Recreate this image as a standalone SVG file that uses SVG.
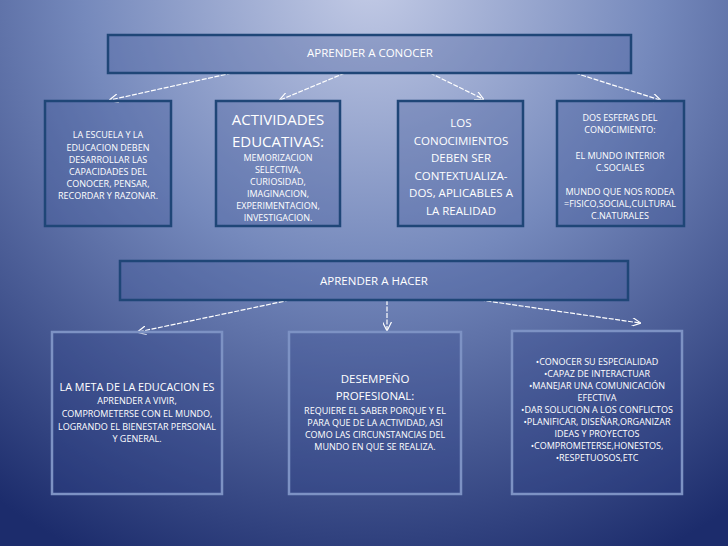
<svg xmlns="http://www.w3.org/2000/svg" width="728" height="546" viewBox="0 0 728 546">
<defs>
<radialGradient id="bg" cx="370" cy="-20" r="640" gradientUnits="userSpaceOnUse">
<stop offset="0" stop-color="#c3cbe6"/>
<stop offset="0.45" stop-color="#7589bc"/>
<stop offset="1" stop-color="#1c2c6c"/>
</radialGradient>
<marker id="ah" viewBox="0 0 10 10" refX="9" refY="5" markerWidth="9" markerHeight="9" orient="auto" markerUnits="userSpaceOnUse">
<path d="M0,0 L10,5 L0,10" fill="none" stroke="#fff" stroke-width="1.3"/>
</marker>
</defs>
<style>
.box{fill:#3a5496;fill-opacity:0.3;stroke:#1f4677;stroke-width:2.5}
.box2{fill:#2a4088;fill-opacity:0.25;stroke:#7d92c4;stroke-width:2.5}
text{font-family:"Open Sans","Noto Sans",sans-serif;fill:#fff;text-anchor:middle}
.s{font-size:9px}
.m{font-size:11.5px}
.m2{font-size:10.8px}
.l{font-size:15px}
.c{stroke:#fff;stroke-width:1.2;stroke-dasharray:5 1.5;fill:none;marker-end:url(#ah)}
</style>
<rect width="728" height="546" fill="url(#bg)"/>
<g id="connectors">
<line class="c" x1="232" y1="73" x2="110" y2="100"/>
<line class="c" x1="345" y1="73" x2="280" y2="100"/>
<line class="c" x1="430" y1="73" x2="483" y2="99"/>
<line class="c" x1="575" y1="73" x2="660" y2="100"/>
<line class="c" x1="290" y1="300" x2="138" y2="332"/>
<line class="c" x1="387" y1="300" x2="387" y2="330"/>
<line class="c" x1="480" y1="300" x2="640" y2="323"/>
</g>
<g id="n1"><rect class="box" x="108" y="35" width="523" height="38"/><text class="m" x="370" y="57">APRENDER A CONOCER</text></g>
<g id="n2"><rect class="box" x="45" y="101" width="126" height="125"/>
<text class="s"><tspan x="108" y="138">LA ESCUELA Y LA</tspan><tspan x="108" y="151">EDUCACION DEBEN</tspan><tspan x="108" y="163">DESARROLLAR LAS</tspan><tspan x="108" y="175">CAPACIDADES DEL</tspan><tspan x="108" y="187">CONOCER, PENSAR,</tspan><tspan x="108" y="199">RECORDAR Y RAZONAR.</tspan></text></g>
<g id="n3"><rect class="box" x="216" y="101" width="124" height="125"/>
<text><tspan class="l" x="278" y="125">ACTIVIDADES</tspan><tspan class="l" x="278" y="147">EDUCATIVAS:</tspan><tspan class="s" x="278" y="161">MEMORIZACION</tspan><tspan class="s" x="278" y="173">SELECTIVA,</tspan><tspan class="s" x="278" y="185">CURIOSIDAD,</tspan><tspan class="s" x="278" y="197">IMAGINACION,</tspan><tspan class="s" x="278" y="209">EXPERIMENTACION,</tspan><tspan class="s" x="278" y="221">INVESTIGACION.</tspan></text></g>
<g id="n4"><rect class="box" x="398" y="101" width="125" height="125"/>
<text class="m"><tspan x="461" y="127">LOS</tspan><tspan x="461" y="145">CONOCIMIENTOS</tspan><tspan x="461" y="162">DEBEN SER</tspan><tspan x="461" y="180">CONTEXTUALIZA-</tspan><tspan x="461" y="197">DOS, APLICABLES A</tspan><tspan x="461" y="215">LA REALIDAD</tspan></text></g>
<g id="n5"><rect class="box" x="557" y="101" width="127" height="125"/>
<text class="s"><tspan x="620" y="121">DOS ESFERAS DEL</tspan><tspan x="620" y="133">CONOCIMIENTO:</tspan><tspan x="620" y="159">EL MUNDO INTERIOR</tspan><tspan x="620" y="171">C.SOCIALES</tspan><tspan x="620" y="195">MUNDO QUE NOS RODEA</tspan><tspan x="620" y="207">=FISICO,SOCIAL,CULTURAL</tspan><tspan x="620" y="219">C.NATURALES</tspan></text></g>
<g id="n6"><rect class="box" x="120" y="261" width="508" height="39"/><text class="m" x="374" y="285">APRENDER  A HACER</text></g>
<g id="n7"><rect class="box2" x="52" y="332" width="170" height="162"/>
<text><tspan class="m2" x="137" y="391">LA META DE LA EDUCACION ES</tspan><tspan class="s" x="137" y="404">APRENDER A VIVIR,</tspan><tspan class="s" x="137" y="417">COMPROMETERSE CON EL MUNDO,</tspan><tspan class="s" x="137" y="430">LOGRANDO EL BIENESTAR PERSONAL</tspan><tspan class="s" x="137" y="442">Y GENERAL.</tspan></text></g>
<g id="n8"><rect class="box2" x="289" y="332" width="172" height="162"/>
<text><tspan class="m" x="375" y="383">DESEMPEÑO</tspan><tspan class="m" x="375" y="400">PROFESIONAL:</tspan><tspan class="s" x="375" y="414">REQUIERE EL SABER PORQUE Y EL</tspan><tspan class="s" x="375" y="426">PARA QUE DE LA ACTIVIDAD, ASI</tspan><tspan class="s" x="375" y="438">COMO LAS CIRCUNSTANCIAS DEL</tspan><tspan class="s" x="375" y="450">MUNDO EN QUE SE REALIZA.</tspan></text></g>
<g id="n9"><rect class="box2" x="512" y="331" width="170" height="163"/>
<text class="s"><tspan x="597" y="365">•CONOCER SU ESPECIALIDAD</tspan><tspan x="597" y="377">•CAPAZ DE INTERACTUAR</tspan><tspan x="597" y="389">•MANEJAR UNA COMUNICACIÓN</tspan><tspan x="597" y="401">EFECTIVA</tspan><tspan x="597" y="413">•DAR SOLUCION A LOS CONFLICTOS</tspan><tspan x="597" y="425">•PLANIFICAR, DISEÑAR,ORGANIZAR</tspan><tspan x="597" y="437">IDEAS Y PROYECTOS</tspan><tspan x="597" y="449">•COMPROMETERSE,HONESTOS,</tspan><tspan x="597" y="461">•RESPETUOSOS,ETC</tspan></text></g>
</svg>
